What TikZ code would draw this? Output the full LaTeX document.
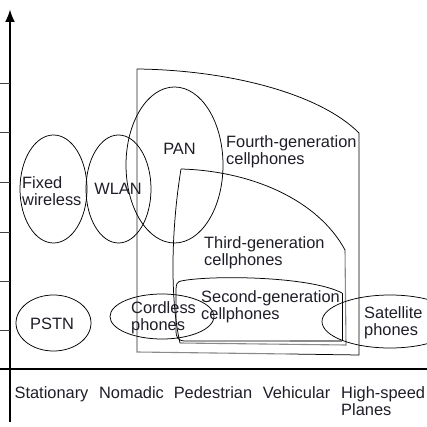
\documentclass[tikz,border=0pt]{standalone}
\usepackage{fontspec}
\setmainfont{Liberation Sans}
\usetikzlibrary{arrows.meta}
\definecolor{txt}{HTML}{1E1E28}
\definecolor{lg}{HTML}{8A8A8A}
\tikzset{
  lbl/.style={font=\fontsize{16.4}{17.4}\selectfont, inner sep=0pt, text=txt, align=left},
  thin line/.style={line width=0.75pt, black},
  grey line/.style={line width=1.1pt, lg},
  axis/.style={line width=2.6pt, black},
  tick/.style={line width=1pt, black!75},
}
\begin{document}
\begin{tikzpicture}[x=1pt,y=-1pt]
\useasboundingbox (0,0) rectangle (427,427);
\fill[white] (0,0) rectangle (427,427);
\begin{scope}
\clip (0,0) rectangle (427,427);
% fourth generation region
\draw[grey line] (137,69) -- (137,352) -- (290,354);
\draw[thin line] (137,69) .. controls (225,70) and (318,92) .. (359,133) -- (359,355) -- (290,354);
% third generation region
\draw[thin line] (181,169) .. controls (252,171) and (318,200) .. (345,250);
\draw[grey line] (345,250) -- (346,345) -- (180,343);
\draw[thin line] (181,169) .. controls (171,230) and (170,300) .. (180,343);
% second generation region
\draw[thin line] (342,293) .. controls (310,276) and (210,275) .. (181,281)
  .. controls (177,282) and (176,284) .. (176,290) -- (176,330)
  .. controls (176,338) and (178,341) .. (186,341) -- (290,341);
\draw[grey line] (290,341) -- (342,341);
\draw[thin line] (342,341) -- (342,293);
% ellipses
\draw[thin line] (53.5,189) ellipse [x radius=33.5, y radius=54];
\draw[thin line] (118.5,189) ellipse [x radius=32.5, y radius=54];
\draw[thin line] (174.5,165) ellipse [x radius=48.5, y radius=78];
\draw[thin line] (53.5,323) ellipse [x radius=37.5, y radius=28];
\draw[thin line] (162,316.5) ellipse [x radius=52, y radius=22.5];
\draw[thin line] (390,321.5) ellipse [x radius=68, y radius=26.5];
\end{scope}
% axes
\coordinate (ytop) at (10,9);
\coordinate (ybot) at (10,422);
\coordinate (xl) at (0,369);
\coordinate (xr) at (427,369);
\draw[axis] (xl) -- (xr);
\draw[axis, -{Latex[length=13pt,width=10pt]}] (ybot) -- (ytop);
\foreach \yy in {84,133,183,232,281,330} \draw[tick] (0,\yy) -- (10,\yy);
% labels
\node[lbl, anchor=north west] (fw) at (22,176) {Fixed\\wireless};
\node[lbl] (wlan) at (118,188.5) {WLAN};
\node[lbl] (pan) at (179.5,149) {PAN};
\node[lbl, anchor=north west] (g4) at (226,135.5) {Fourth-generation\\cellphones};
\node[lbl, anchor=north west] (g3) at (204,236) {Third-generation\\cellphones};
\node[lbl, anchor=north west] (g2) at (201,290) {Second-generation\\cellphones};
\node[lbl, anchor=north west] (cord) at (131,301) {Cordless\\phones};
\node[lbl] (pstn) at (52,324) {PSTN};
\node[lbl, anchor=north west] (sat) at (364,306) {Satellite\\phones};
\node[lbl, anchor=base] (st) at (51.5,398.5) {Stationary};
\node[lbl, anchor=base] (no) at (131.5,398.5) {Nomadic};
\node[lbl, anchor=base] (pe) at (213,398.5) {Pedestrian};
\node[lbl, anchor=base] (ve) at (296.5,398.5) {Vehicular};
\node[lbl, anchor=north west] (hs) at (341,386) {High-speed\\Planes};
\end{tikzpicture}
\end{document}
